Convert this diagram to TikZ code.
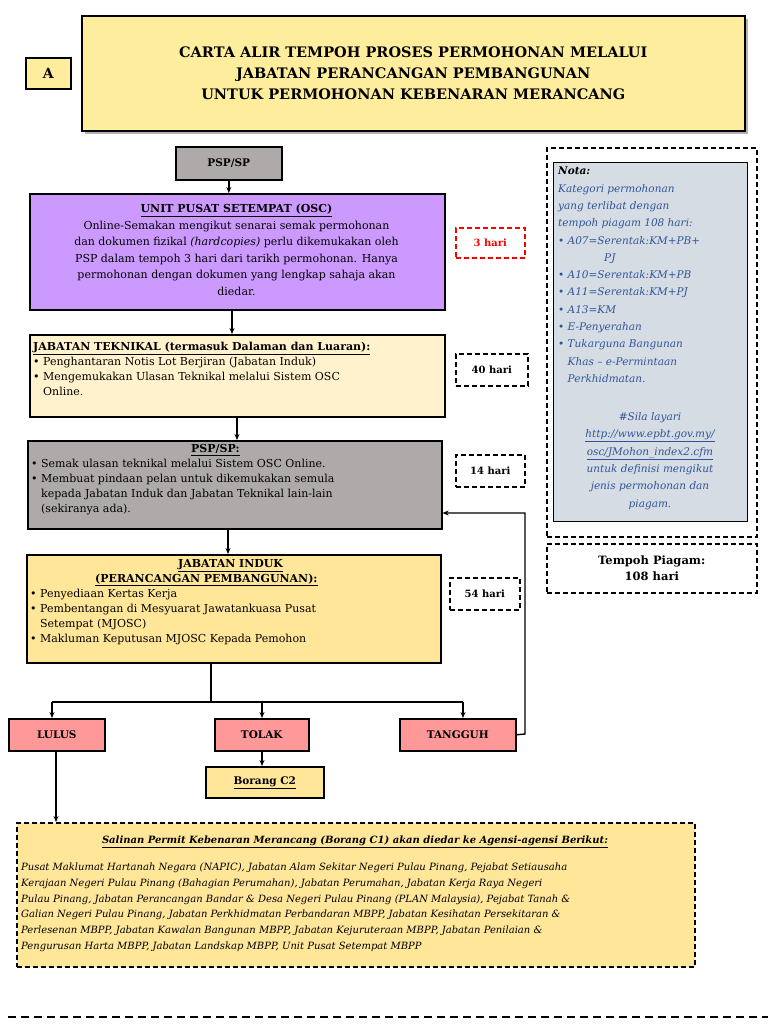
\documentclass[tikz,border=0pt]{standalone}
\usepackage{fontspec}
\setmainfont{DejaVu Serif}
\usepackage{xcolor}
\definecolor{ylw}{HTML}{FFED9E}
\definecolor{lyl}{HTML}{FFF2CC}
\definecolor{ind}{HTML}{FFE699}
\definecolor{prp}{HTML}{CC99FF}
\definecolor{gry}{HTML}{AEAAAA}
\definecolor{pnk}{HTML}{FF9999}
\definecolor{nota}{HTML}{D6DCE4}
\definecolor{blu}{HTML}{2F5597}
\usetikzlibrary{arrows.meta}
\begin{document}
\begin{tikzpicture}[x=1pt,y=-1pt,
 box/.style={draw=black,line width=1.6pt,inner sep=0pt},
 dbox/.style={draw=black,line width=1.6pt,dash pattern=on 5pt off 3pt},
 arr/.style={line width=1.4pt,-{Stealth[length=6pt,width=5pt]}},
 ln/.style={line width=1.4pt},
 body/.style={font=\fontsize{11}{15}\selectfont,align=left,anchor=north west,inner sep=0pt},
 hari/.style={font=\bfseries\fontsize{10}{12}\selectfont}]
\useasboundingbox (0,0) rectangle (768,1024);
% title
\fill[gray!60] (85,19) rectangle (748,134);
\node[box,fill=ylw,minimum width=663pt,minimum height=115pt,anchor=north west] (title) at (81,15) {};
\node[font=\bfseries\fontsize{14.5}{21}\selectfont,align=center] (tt) at (title.center) {CARTA ALIR TEMPOH PROSES PERMOHONAN MELALUI\\JABATAN PERANCANGAN PEMBANGUNAN\\UNTUK PERMOHONAN KEBENARAN MERANCANG};
\node[box,fill=ylw,minimum width=45pt,minimum height=31pt,anchor=north west,font=\bfseries\fontsize{14}{16}\selectfont] (A) at (25,57) {A};
% PSP/SP top
\node[box,fill=gry,minimum width=106pt,minimum height=33pt,anchor=north west,font=\bfseries\fontsize{10.5}{12}\selectfont] (psp) at (175,146) {PSP/SP};
% OSC
\node[box,fill=prp,minimum width=415pt,minimum height=116pt,anchor=north west] (osc) at (29,193) {};
\node[font=\fontsize{11}{16.5}\selectfont,align=center,anchor=north] at (236.5,201) {\textbf{\underline{UNIT PUSAT SETEMPAT (OSC)}}\\Online-Semakan mengikut senarai semak permohonan\\dan dokumen fizikal \textit{(hardcopies)} perlu dikemukakan oleh\\PSP dalam tempoh 3 hari dari tarikh permohonan. Hanya\\permohonan dengan dokumen yang lengkap sahaja akan\\diedar.};
\node[dbox,draw=red,minimum width=69pt,minimum height=30pt,anchor=north west,hari,text=red] (h3) at (455,227) {3 hari};
% Teknikal
\node[box,fill=lyl,minimum width=415pt,minimum height=82pt,anchor=north west] (tek) at (29,334) {};
\node[body] at (33,342) {\textbf{\underline{JABATAN TEKNIKAL (termasuk Dalaman dan Luaran):}}\\\textbullet\ Penghantaran Notis Lot Berjiran (Jabatan Induk)\\\textbullet\ Mengemukakan Ulasan Teknikal melalui Sistem OSC\\\phantom{\textbullet\ }Online.};
\node[dbox,minimum width=72pt,minimum height=32pt,anchor=north west,hari] (h40) at (455,353) {40 hari};
% PSP/SP 2
\node[box,fill=gry,minimum width=414pt,minimum height=88pt,anchor=north west] (psp2) at (27,440) {};
\node[body] at (31,444) {\hspace*{160pt}\textbf{\underline{PSP/SP:}}\\\textbullet\ Semak ulasan teknikal melalui Sistem OSC Online.\\\textbullet\ Membuat pindaan pelan untuk dikemukakan semula\\\phantom{\textbullet\ }kepada Jabatan Induk dan Jabatan Teknikal lain-lain\\\phantom{\textbullet\ }(sekiranya ada).};
\node[dbox,minimum width=69pt,minimum height=32pt,anchor=north west,hari] (h14) at (455,454) {14 hari};
% Induk
\node[box,fill=ind,minimum width=414pt,minimum height=108pt,anchor=north west] (ind) at (26,554) {};
\node[body] at (30,559) {\hspace*{148pt}\textbf{\underline{JABATAN INDUK}}\\\hspace*{65pt}\textbf{\underline{(PERANCANGAN PEMBANGUNAN):}}\\\textbullet\ Penyediaan Kertas Kerja\\\textbullet\ Pembentangan di Mesyuarat Jawatankuasa Pusat\\\phantom{\textbullet\ }Setempat (MJOSC)\\\textbullet\ Makluman Keputusan MJOSC Kepada Pemohon};
\node[dbox,minimum width=70pt,minimum height=32pt,anchor=north west,hari] (h54) at (449,577) {54 hari};
% decisions
\node[box,fill=pnk,minimum width=96pt,minimum height=32pt,anchor=north west,font=\bfseries\fontsize{10.5}{12}\selectfont] (lulus) at (8,718) {LULUS};
\node[box,fill=pnk,minimum width=94pt,minimum height=32pt,anchor=north west,font=\bfseries\fontsize{10.5}{12}\selectfont] (tolak) at (214,718) {TOLAK};
\node[box,fill=pnk,minimum width=116pt,minimum height=32pt,anchor=north west,font=\bfseries\fontsize{10.5}{12}\selectfont] (tangguh) at (399,718) {TANGGUH};
\node[box,fill=ind,minimum width=118pt,minimum height=31pt,anchor=north west,font=\bfseries\fontsize{10.5}{12}\selectfont] (c2) at (205,766) {\underline{Borang C2}};
% bottom box
\node[dbox,fill=ind,minimum width=678pt,minimum height=144pt,anchor=north west] (agen) at (16,822) {};
\node[font=\bfseries\itshape\fontsize{10}{12}\selectfont,anchor=north] at (355,832) {\underline{Salinan Permit Kebenaran Merancang (Borang C1) akan diedar ke Agensi-agensi Berikut:}};
\node[body,font=\itshape\fontsize{10}{15.7}\selectfont] at (21,863) {Pusat Maklumat Hartanah Negara (NAPIC), Jabatan Alam Sekitar Negeri Pulau Pinang, Pejabat Setiausaha\\Kerajaan Negeri Pulau Pinang (Bahagian Perumahan), Jabatan Perumahan, Jabatan Kerja Raya Negeri\\Pulau Pinang, Jabatan Perancangan Bandar \& Desa Negeri Pulau Pinang (PLAN Malaysia), Pejabat Tanah \&\\Galian Negeri Pulau Pinang, Jabatan Perkhidmatan Perbandaran MBPP, Jabatan Kesihatan Persekitaran \&\\Perlesenan MBPP, Jabatan Kawalan Bangunan MBPP, Jabatan Kejuruteraan MBPP, Jabatan Penilaian \&\\Pengurusan Harta MBPP, Jabatan Landskap MBPP, Unit Pusat Setempat MBPP};
% nota
\node[dbox,minimum width=210pt,minimum height=389pt,anchor=north west] (notaout) at (546,147) {};
\node[draw=black,line width=1pt,fill=nota,minimum width=194pt,minimum height=359pt,anchor=north west] (nota) at (553,162) {};
\node[body,font=\itshape\fontsize{10.5}{17.3}\selectfont,text=blu] at (558,167) {\textcolor{black}{\textbf{Nota:}}\\Kategori permohonan\\yang terlibat dengan\\tempoh piagam 108 hari:\\\textbullet\ A07=Serentak:KM+PB+\\\hspace*{46pt}PJ\\\textbullet\ A10=Serentak:KM+PB\\\textbullet\ A11=Serentak:KM+PJ\\\textbullet\ A13=KM\\\textbullet\ E-Penyerahan\\\textbullet\ Tukarguna Bangunan\\\phantom{\textbullet\ }Khas -- e-Permintaan\\\phantom{\textbullet\ }Perkhidmatan.};
\node[font=\itshape\fontsize{10.5}{17.3}\selectfont,text=blu,align=center,anchor=north] at (650,409) {\#Sila layari\\\underline{http://www.epbt.gov.my/}\\\underline{osc/JMohon\_index2.cfm}\\untuk definisi mengikut\\jenis permohonan dan\\piagam.};
\node[dbox,minimum width=210pt,minimum height=49pt,anchor=north west,font=\bfseries\fontsize{11.5}{16}\selectfont,align=center] (piagam) at (546,543) {Tempoh Piagam:\\108 hari};
% bottom dashed line
\coordinate (bl1) at (8,1017); \coordinate (bl2) at (768,1017);
\draw[ln,dash pattern=on 8pt off 5pt] (bl1) -- (bl2);
% connectors
\draw[arr] (psp.south) -- (psp.south |- osc.north);
\draw[arr] (232,309) -- (232,334);
\draw[arr] (237,416) -- (237,440);
\draw[arr] (228,528) -- (228,554);
\draw[ln] (211,662) -- (211,702);
\draw[ln] (52,702) -- (463,702);
\draw[arr] (52,702) -- (lulus.north -| 52,0);
\draw[arr] (262,702) -- (tolak.north -| 262,0);
\draw[arr] (463,702) -- (tangguh.north -| 463,0);
\draw[arr] (tangguh.east) -- (525,734) -- (525,513) -- (psp2.east |- 0,513);
\draw[arr] (56,750) -- (agen.north -| 56,0);
\draw[arr] (tolak.south -| 262,0) -- (c2.north -| 262,0);
\end{tikzpicture}
\end{document}
